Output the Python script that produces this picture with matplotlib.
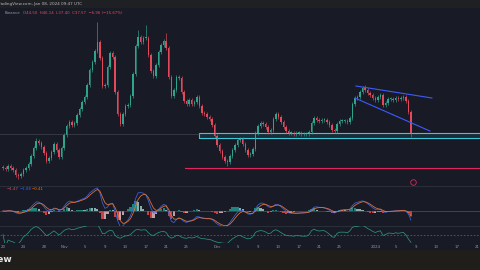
import numpy as np
import pandas as pd
import matplotlib.pyplot as plt

# 12h closes, 20 Oct 2023 -> 8 Jan 2024 (price units)
close = [32, 31, 34, 32, 30, 25, 24, 26, 30, 32,
         36, 44, 52, 59, 57, 53, 47, 39, 42, 48,
         56, 50, 43, 52, 65, 74, 78, 75, 77, 85,
         91, 98, 103, 115, 130, 138, 149, 158, 142, 114,
         115, 133, 147, 143, 108, 86, 76, 86, 94, 95,
         104, 126, 154, 163, 158, 162, 162, 145, 129, 124,
         135, 148, 155, 159, 152, 123, 104, 110, 123, 122,
         108, 99, 96, 100, 96, 98, 103, 94, 87, 86,
         83, 81, 75, 64, 55, 49, 43, 39, 38, 44,
         50, 55, 60, 61, 56, 50, 45, 46, 51, 67,
         74, 77, 76, 73, 68, 70, 81, 86, 83, 78,
         73, 69, 67, 67, 66, 67, 67, 66, 66, 66,
         68, 77, 82, 80, 79, 80, 80, 78, 75, 70,
         69, 76, 79, 79, 79, 78, 82, 96, 102, 103,
         108, 112, 110, 107, 105, 102, 100, 103, 105, 95,
         97, 101, 101, 100, 102, 101, 102, 103, 99, 88,
         66]
first_open = 33
spike_hi = {13: 62, 37: 178, 53: 170, 56: 175, 64: 167, 142: 115}
spike_lo = {6: 21, 88: 34, 160: 63}

day_ticks = [0, 4, 8, 12, 16, 20, 24, 28, 32, 36, 42, 46, 50, 54, 58, 62, 66,
             73, 77, 81, 85, 89, 93]
day_labels = ['20', '24', '28', 'Nov', '5', '9', '13', '17', '21', '25', 'Dec',
              '5', '9', '13', '17', '21', '25', '2024', '5', '9', '13', '17', '21']

# drawings
zone = (62, 67)          # cyan box
support = 32             # pink line
upper_tl = ([69.2, 84.1], [114, 102])
lower_tl = ([69.0, 83.7], [102, 69])

BG = '#181b26'
UP, DN = '#2fa38c', '#e24a5c'
W, H = 480, 270

c = pd.Series(close, dtype=float)
o = c.shift(1).fillna(first_open)
hi = np.maximum(o, c) + 2
lo = np.minimum(o, c) - 2
for k, v in spike_hi.items():
    hi[k] = v
for k, v in spike_lo.items():
    lo[k] = v
d = np.arange(len(c)) * 0.5
up = (c >= o).values

# indicators
ema_f = c.ewm(span=4, adjust=False).mean()
ema_s = c.ewm(span=9, adjust=False).mean()
macd = ema_f - ema_s
signal = macd.ewm(span=3, adjust=False).mean()
hist = macd - signal
delta = c.diff()
gain = delta.clip(lower=0).ewm(alpha=1 / 9, adjust=False).mean()
loss = (-delta.clip(upper=0)).ewm(alpha=1 / 9, adjust=False).mean()
rsi = 100 - 100 / (1 + gain / loss.replace(0, np.nan))
rsi = rsi.fillna(50)

fig = plt.figure(figsize=(4.8, 2.7), dpi=100, facecolor=BG)
xlim = (-3 / 5.1, 477 / 5.1)


def pane(top, bottom):
    ax = fig.add_axes([0, 1 - bottom / H, 1, (bottom - top) / H])
    ax.set_facecolor(BG)
    ax.set_xlim(*xlim)
    for s in ax.spines.values():
        s.set_visible(False)
    ax.set_xticks([])
    ax.set_yticks([])
    return ax


# top / bottom bars
top = fig.add_axes([0, 1 - 8 / H, 1, 8 / H])
top.axis('off')
top.add_patch(plt.Rectangle((0, 0), 1, 1, color='#1f2023', transform=top.transAxes))
fig.text(-3 / W, 1 - 4 / H, 'TradingView.com, Jan 08, 2024 09:47 UTC', color='#b8bac0',
         fontsize=3, va='center', ha='left')
bot = fig.add_axes([0, 0, 1, 20 / H])
bot.axis('off')
bot.add_patch(plt.Rectangle((0, 0), 1, 1, color='#1f1e1b', transform=bot.transAxes))
fig.text(13 / W, 10 / H, 'TradingView', color='#e8e8e8', fontsize=6.5,
         fontweight='bold', ha='right', va='center')

# main price pane
ax = pane(8, 186)
ax.set_ylim(14, 192)
cols = np.where(up, UP, DN)
ax.vlines(d, lo, hi, colors=cols, lw=0.45)
ax.bar(d, np.abs(c - o).clip(lower=0.8), bottom=np.minimum(o, c), width=0.28,
       color=cols, linewidth=0)
ax.axhline(66, xmax=(199 / W), color='#5d606b', lw=0.5, alpha=0.6)
ax.add_patch(plt.Rectangle((196 / 5.1, zone[0]), 100, zone[1] - zone[0],
                           facecolor='#26c6da', alpha=0.1, edgecolor='none'))
ax.add_patch(plt.Rectangle((196 / 5.1, zone[0]), 100, zone[1] - zone[0],
                           facecolor='none', edgecolor='#3cc8d8', lw=0.8))
ax.plot([182 / 5.1, 100], [support, support], color='#e0245e', lw=0.8)
ax.plot(*upper_tl, color='#3d5afe', lw=0.8)
ax.plot(*lower_tl, color='#3d5afe', lw=0.8)
ax.plot([80.4], [18], marker='o', ms=4, mfc='none', mec='#e0245e', mew=0.6)
ax.text(5 / W, 1 - 5 / 178, 'Binance', transform=ax.transAxes, color='#9598a1',
        fontsize=2.8, va='center')
ax.text(23 / W, 1 - 5 / 178, 'O44.50  H46.14  L37.40  C37.57  −6.96 (−15.67%)',
        transform=ax.transAxes, color=DN, fontsize=2.8, va='center')

# MACD pane
ax2 = pane(186, 226)
top_v = max(macd.max(), hist.max()) * 1.08
ax2.set_ylim(-0.6 * top_v, top_v)
ax2.axhline(0, color='#5d606b', lw=0.4)
prev = hist.shift(1).fillna(0)
hcols = np.where(hist >= 0, np.where(hist >= prev, '#26a69a', '#b2dfdb'),
                 np.where(hist < prev, '#ff5252', '#ffcdd2'))
ax2.bar(d, hist * 1.4, width=0.45, color=hcols, linewidth=0, alpha=0.75)
ax2.plot(d, macd, color='#3f62e0', lw=0.55)
ax2.plot(d, signal, color='#e8743a', lw=0.55)
ax2.axhline(top_v, color='#2a2e39', lw=0.8)
ax2.text(7 / W, 1 - 2.5 / 40, '−1.47', transform=ax2.transAxes, color=DN, fontsize=2.8, va='center')
ax2.text(20 / W, 1 - 2.5 / 40, '−1.88', transform=ax2.transAxes, color='#2962ff', fontsize=2.8, va='center')
ax2.text(32 / W, 1 - 2.5 / 40, '−0.41', transform=ax2.transAxes, color='#ff6d00', fontsize=2.8, va='center')

# RSI pane
ax3 = pane(226, 243)
ax3.set_ylim(15, 85)
ax3.axhline(85, color='#2a2e39', lw=0.8)
ax3.axhline(50, color='#787b86', lw=0.4, ls=(0, (3, 3)))
ax3.plot(d, rsi, color='#2e9e7e', lw=0.5)
ax3.set_xticks(day_ticks)
ax3.set_xticklabels(day_labels)
ax3.tick_params(axis='x', length=0, pad=1.8, labelsize=2.8, labelcolor='#9598a1')

fig.savefig('out.png', dpi=100, facecolor=BG)
